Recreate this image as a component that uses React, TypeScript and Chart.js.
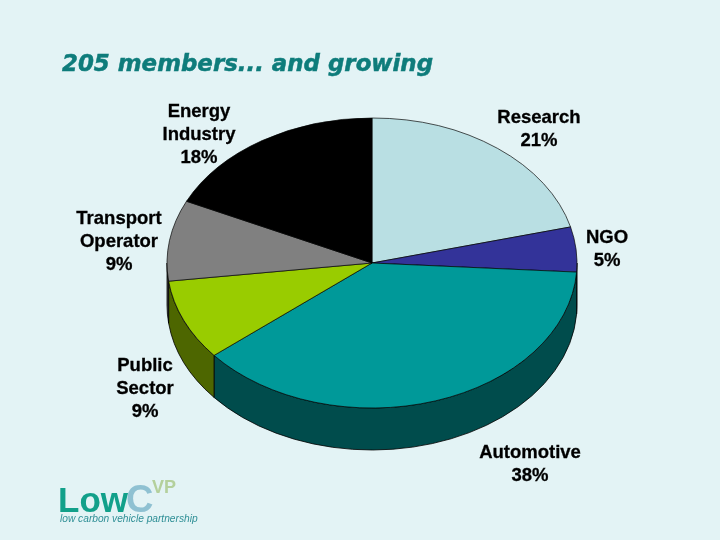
import { useEffect, useRef } from "react";
import { Chart, registerables } from "chart.js";

Chart.register(...registerables);

const categories = ["Research", "NGO", "Automotive", "Public Sector", "Transport Operator", "Energy Industry"];
const shares = [21, 5, 38, 9, 9, 18];
const topColors = ["#b9dfe3", "#333399", "#009999", "#99cc00", "#808080", "#000000"];
const wallColors = ["#5c7073", "#1a1a4d", "#004c4c", "#4d6600", "#404040", "#000000"];

// centre x and first baseline of each slice label
const labelSpots = [
  [539, 123],
  [607, 243],
  [530, 458],
  [145, 371],
  [119, 224],
  [199, 117],
];

const BG = "#e3f3f5";
const CX = 372;
const CY = 263;
const RX = 205;
const RY = 145;
const DEPTH = 42;

// squashes the pie into an ellipse and puts the side wall under it
const tiltPlugin = {
  id: "tilt",
  beforeDatasetsDraw(chart: any) {
    const ctx = chart.ctx;
    const arcs = chart.getDatasetMeta(0).data;
    arcs.forEach((arc: any, i: number) => {
      const from = Math.max(arc.startAngle, 0);
      const to = Math.min(arc.endAngle, Math.PI);
      if (to <= from) return;
      ctx.beginPath();
      ctx.ellipse(CX, CY, RX, RY, 0, from, to);
      ctx.ellipse(CX, CY + DEPTH, RX, RY, 0, to, from, true);
      ctx.closePath();
      ctx.fillStyle = wallColors[i];
      ctx.fill();
      ctx.strokeStyle = "#000";
      ctx.lineWidth = 0.8;
      ctx.stroke();
    });
  },
  beforeDatasetDraw(chart: any) {
    const ctx = chart.ctx;
    ctx.save();
    ctx.translate(CX, CY);
    ctx.scale(1, RY / RX);
    ctx.translate(-CX, -CY);
  },
  afterDatasetDraw(chart: any) {
    chart.ctx.restore();
  },
};

const textPlugin = {
  id: "slideText",
  afterDraw(chart: any) {
    const ctx = chart.ctx;
    ctx.save();

    // title, stroked a little since the original is heavier
    ctx.textAlign = "left";
    ctx.textBaseline = "alphabetic";
    ctx.fillStyle = "#0e7c7b";
    ctx.strokeStyle = "#0e7c7b";
    ctx.lineWidth = 0.5;
    ctx.font = "italic bold 22.9px 'DejaVu Sans'";
    ctx.fillText("205 members... and growing", 62, 71);
    ctx.strokeText("205 members... and growing", 62, 71);

    // slice labels
    ctx.textAlign = "center";
    ctx.fillStyle = "#000";
    ctx.strokeStyle = "#000";
    ctx.lineWidth = 0.3;
    ctx.font = "bold 18.5px 'Liberation Sans'";
    categories.forEach((name, i) => {
      const lines = [...name.split(" "), `${shares[i]}%`];
      lines.forEach((line, j) => {
        ctx.fillText(line, labelSpots[i][0], labelSpots[i][1] + j * 23);
        ctx.strokeText(line, labelSpots[i][0], labelSpots[i][1] + j * 23);
      });
    });

    // logo
    ctx.textAlign = "left";
    ctx.font = "bold 35px 'Liberation Sans'";
    ctx.fillStyle = "#12a08a";
    ctx.fillText("Low", 58, 512);
    ctx.fillStyle = "#8fc1d2";
    ctx.font = "bold 38px 'Liberation Sans'";
    ctx.fillText("C", 126, 512);
    ctx.fillStyle = "#b4d09c";
    ctx.font = "bold 18px 'Liberation Sans'";
    ctx.fillText("VP", 152, 493);
    ctx.fillStyle = "#2f8f96";
    ctx.font = "italic 10.2px 'Liberation Sans'";
    ctx.fillText("low carbon vehicle partnership", 60, 522);

    ctx.restore();
  },
};

export default function App() {
  const canvasRef = useRef<HTMLCanvasElement | null>(null);

  useEffect(() => {
    if (!canvasRef.current) return;
    document.body.style.margin = "0";
    document.body.style.background = BG;

    const chart = new Chart(canvasRef.current, {
      type: "pie",
      data: {
        labels: categories,
        datasets: [
          {
            data: shares,
            backgroundColor: topColors,
            borderColor: "#000",
            borderWidth: 0.8,
            radius: RX,
          },
        ],
      },
      options: {
        animation: false,
        responsive: false,
        events: [],
        // pie centre ends up at CX, CY
        layout: { padding: { left: 24, bottom: 14 } },
        plugins: {
          legend: { display: false },
          tooltip: { enabled: false },
        },
      },
      plugins: [tiltPlugin, textPlugin],
    });

    return () => {
      chart.destroy();
    };
  }, []);

  return <canvas ref={canvasRef} width={720} height={540} style={{ display: "block" }} />;
}
